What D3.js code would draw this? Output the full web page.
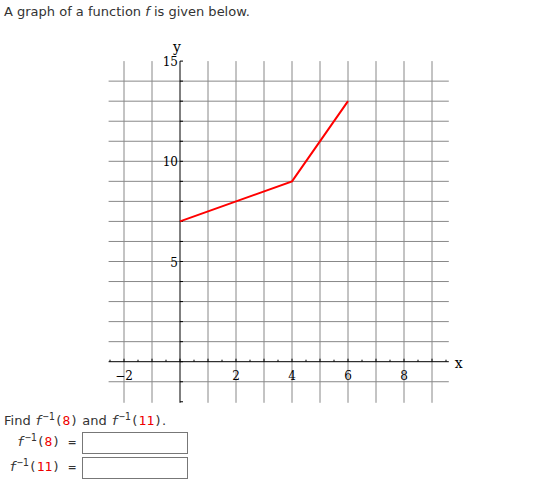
<!DOCTYPE html><html><head><meta charset="utf-8">
<script src="https://cdn.jsdelivr.net/npm/d3@7"></script>
<style>body{margin:0;background:#fff;font-family:"DejaVu Sans",Verdana,sans-serif;}</style></head><body>
<svg id="c" width="533" height="500" font-family="DejaVu Sans, sans-serif"></svg>
<script>
const xs=[0,4,6];
const ys=[7,9,13];
const xTicks=[-2,2,4,6,8];
const yTicks=[5,10,15];
const svg=d3.select("#c");
const x=d3.scaleLinear().domain([0,2]).range([180,236]);
const y=d3.scaleLinear().domain([0,10]).range([361.7,161.3]);
const x0=-2.55,x1=9.6,yb=-2.05,yt=15;
svg.append("text").attr("x",4).attr("y",16).attr("font-size",13).attr("fill","#333").html('A graph of a function <tspan font-style="italic">f</tspan> is given below.');
const g=svg.append("g");
for(let v=-2;v<=9;v++){if(v===0)continue;g.append("line").attr("x1",x(v)).attr("x2",x(v)).attr("y1",y(yt)).attr("y2",y(yb)).attr("stroke","#888").attr("stroke-width",1);}
for(let v=-1;v<=14;v++){if(v===0)continue;g.append("line").attr("y1",y(v)).attr("y2",y(v)).attr("x1",x(x0)).attr("x2",x(x1)).attr("stroke","#888").attr("stroke-width",1);}
g.append("line").attr("x1",x(x0)).attr("x2",x(x1)).attr("y1",y(0)).attr("y2",y(0)).attr("stroke","#000");
g.append("line").attr("x1",x(0)).attr("x2",x(0)).attr("y1",y(yt)).attr("y2",y(yb)).attr("stroke","#000");
for(let v=-2.5;v<=9.5;v+=0.5){g.append("line").attr("x1",x(v)).attr("x2",x(v)).attr("y1",y(0)-(v%1===0?3:2)).attr("y2",y(0)).attr("stroke","#000");}
for(let v=-2;v<=15;v+=1){g.append("line").attr("x1",x(0)).attr("x2",x(0)+3).attr("y1",y(v)).attr("y2",y(v)).attr("stroke","#000");}
const serif='DejaVu Serif, Liberation Serif, serif';
xTicks.forEach(v=>g.append("text").attr("x",x(v)).attr("y",y(0)+18).attr("text-anchor","middle").attr("font-size",12).attr("font-family",serif).text(v<0?"\u2212"+(-v):v));
yTicks.forEach(v=>g.append("text").attr("x",x(0)-2).attr("y",y(v)+5).attr("text-anchor","end").attr("font-size",12).attr("font-family",serif).text(v));
g.append("text").attr("x",x(0)-3).attr("y",y(yt)-9).attr("text-anchor","middle").attr("font-size",14).attr("font-family",serif).text("y");
g.append("text").attr("x",x(x1)+6).attr("y",y(0)+6).attr("font-size",14).attr("font-family",serif).text("x");
g.append("path").datum(xs.map((v,i)=>[v,ys[i]])).attr("d",d3.line().x(d=>x(d[0])).y(d=>y(d[1]))).attr("fill","none").attr("stroke","#f00").attr("stroke-width",2);
const mono='font-family="DejaVu Sans Mono, monospace"';
const finv=a=>'<tspan '+mono+' font-style="italic">f</tspan><tspan '+mono+' dy="-5" font-size="10">−1</tspan><tspan '+mono+' dy="5">(</tspan><tspan '+mono+' fill="#e00">'+a+'</tspan><tspan '+mono+'>)</tspan>';
svg.append("text").attr("x",4).attr("y",425).attr("font-size",13).attr("fill","#333").attr("xml:space","preserve")
 .html('Find '+finv("8")+' and '+finv("11")+'.');
[["8",446],["11",471]].forEach(([a,yy])=>{
 svg.append("text").attr("x",76).attr("y",yy).attr("text-anchor","end").attr("font-size",13).attr("fill","#333")
  .html(finv(a)+'<tspan '+mono+' dx="8">=</tspan>');
 svg.append("rect").attr("x",82.5).attr("y",yy-13.5).attr("width",105).attr("height",21).attr("fill","#fff").attr("stroke","#777");
});
</script></body></html>
